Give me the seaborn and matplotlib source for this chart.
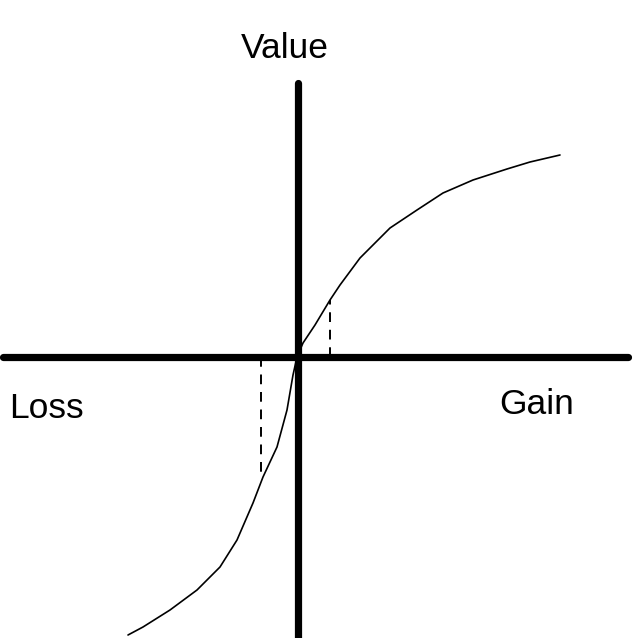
import numpy as np
import pandas as pd
import seaborn as sns
import matplotlib.pyplot as plt

# value function (origin at the axis crossing)
outcome = [-1.69, -1.54, -1.27, -1.00, -0.77, -0.60, -0.44, -0.34, -0.20, -0.10, -0.04, 0.00,
           0.06, 0.18, 0.33, 0.43, 0.63, 0.93, 1.20, 1.46, 1.76, 2.10, 2.33, 2.63]
value = [-2.78, -2.70, -2.53, -2.33, -2.10, -1.83, -1.46, -1.20, -0.90, -0.53, -0.18, 0.00,
         0.14, 0.32, 0.57, 0.72, 0.99, 1.29, 1.47, 1.64, 1.77, 1.88, 1.95, 2.02]

gain_x = 0.33
gain_v = 0.57
loss_x = -0.36
loss_v = -1.22

sns.set_style('white')
plt.rcParams['font.family'] = ['Liberation Sans', 'DejaVu Sans']

fig = plt.figure(figsize=(6.35, 6.38), dpi=100)
ax = fig.add_axes([0, 0, 1, 1])

# the two thick axes
sns.lineplot(x=[-2.94, 3.31], y=[0, 0], ax=ax, color='black', linewidth=5.2, estimator=None)
sns.lineplot(x=[0.01, 0.01], y=[-2.81, 2.74], ax=ax, color='black', linewidth=5.2,
             sort=False, estimator=None)

df = pd.DataFrame({'outcome': outcome, 'value': value})
sns.lineplot(data=df, x='outcome', y='value', ax=ax, color='black', linewidth=1.2,
             sort=False, estimator=None)

# dashed drop lines
sns.lineplot(x=[gain_x, gain_x], y=[0, gain_v], ax=ax, color='black', linewidth=1.4,
             linestyle=(0, (5, 4)), sort=False, estimator=None)
sns.lineplot(x=[loss_x, loss_x], y=[0, loss_v], ax=ax, color='black', linewidth=1.4,
             linestyle=(0, (5, 4)), sort=False, estimator=None)

ax.text(-0.12, 3.08, 'Value', ha='center', va='center', fontsize=25.5, color='black')
ax.text(-2.51, -0.52, 'Loss', ha='center', va='center', fontsize=25.5, color='black')
ax.text(2.40, -0.48, 'Gain', ha='center', va='center', fontsize=25.5, color='black')

ax.set_xlim(-2.97, 3.38)
ax.set_ylim(-2.81, 3.57)
ax.axis('off')

plt.savefig('out.png', dpi=100)
